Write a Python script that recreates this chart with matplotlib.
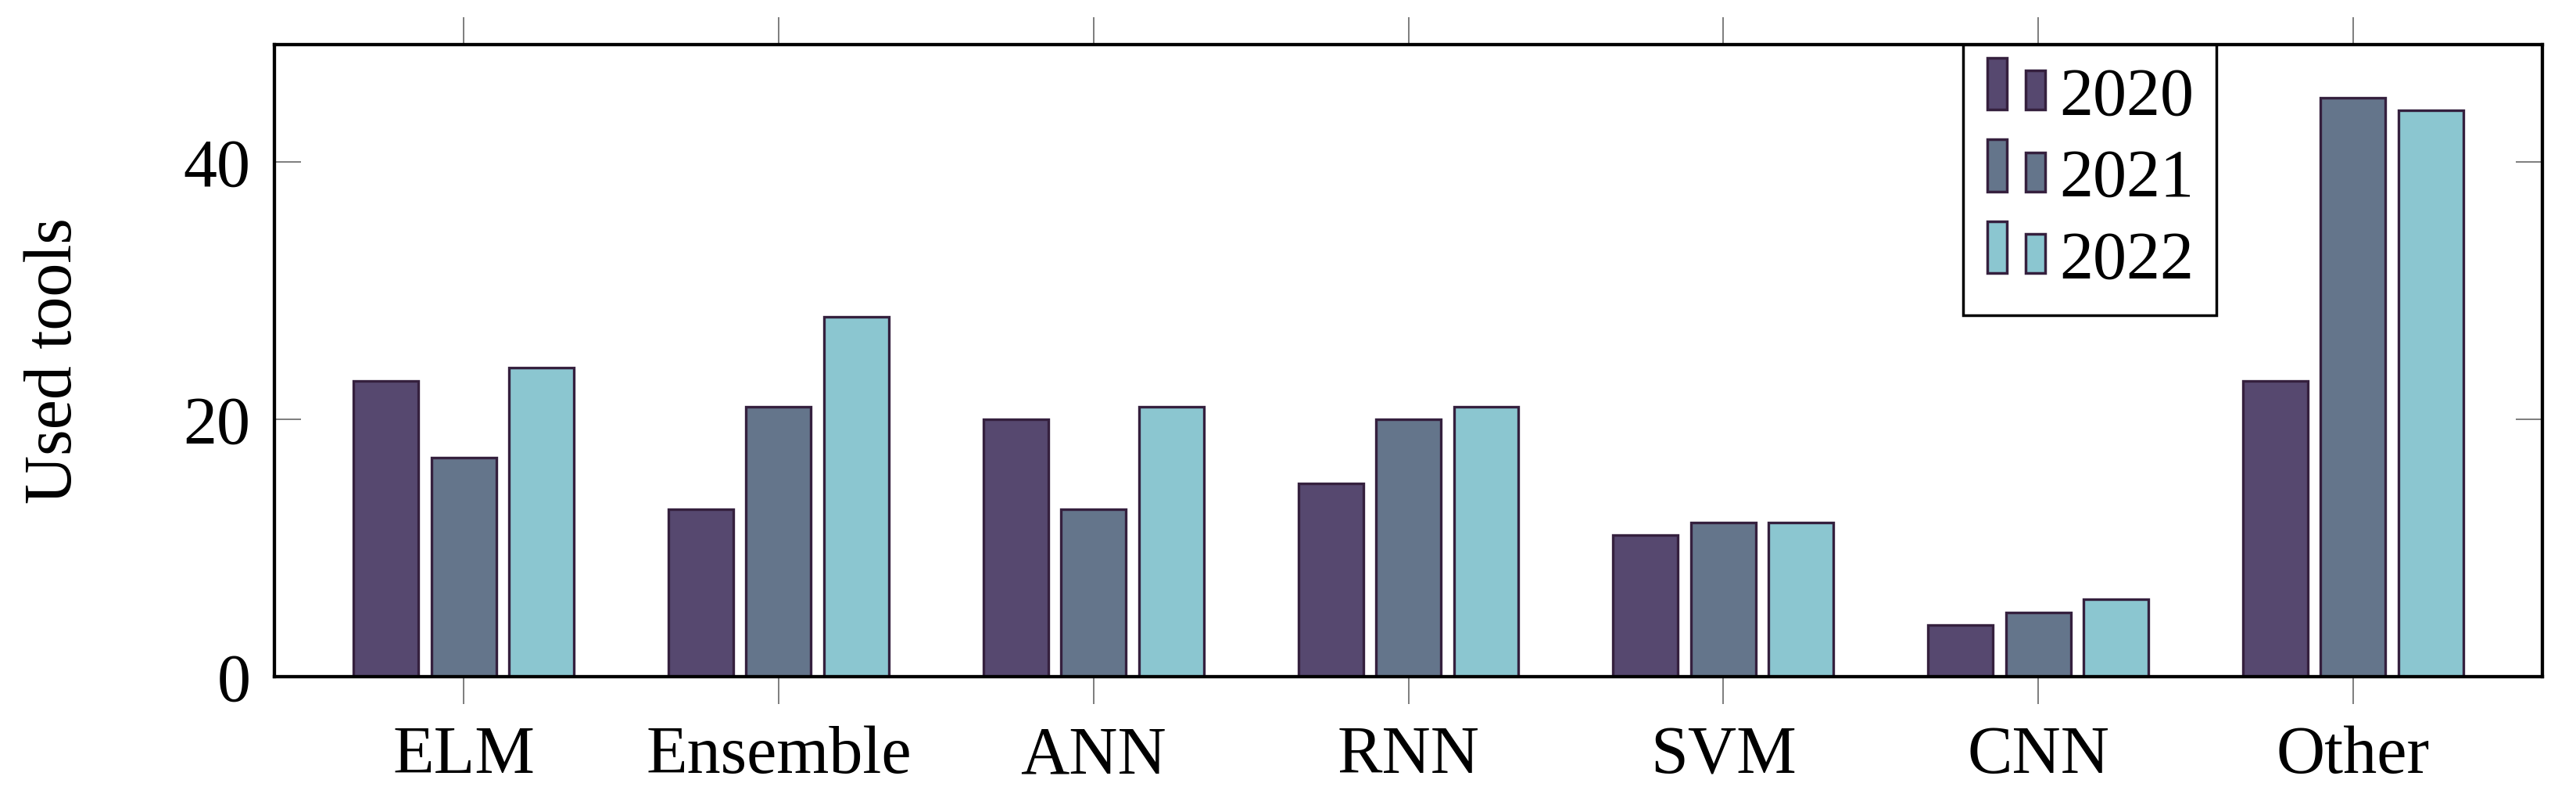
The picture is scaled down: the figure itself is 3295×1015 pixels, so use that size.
import matplotlib.pyplot as plt
import numpy as np
from matplotlib.patches import Rectangle
from matplotlib.legend_handler import HandlerBase
from matplotlib.container import BarContainer

categories = ["ELM", "Ensemble", "ANN", "RNN", "SVM", "CNN", "Other"]
years = ["2020", "2021", "2022"]
tools_2020 = [23, 13, 20, 15, 11, 4, 23]
tools_2021 = [17, 21, 13, 20, 12, 5, 45]
tools_2022 = [24, 28, 21, 21, 12, 6, 44]

fill_colors = ["#56486f", "#64758b", "#8bc6d0"]
edge_color = "#35203e"
tick_color = "#808080"

plt.rcParams["font.family"] = ["Liberation Serif", "DejaVu Serif"]
plt.rcParams["font.size"] = 62


class TwoBarHandler(HandlerBase):
    # pgfplots-like ybar legend image: a tall and a short bar
    def create_artists(self, legend, orig_handle, xdescent, ydescent,
                       width, height, fontsize, trans):
        fc = orig_handle.patches[0].get_facecolor()
        x0 = -xdescent
        y0 = -ydescent + 4.3
        big = Rectangle((x0 + 1.5, y0), 18.5, 48, facecolor=fc,
                        edgecolor=edge_color, lw=2.5, transform=trans)
        small = Rectangle((x0 + 37, y0), 18, 36, facecolor=fc,
                          edgecolor=edge_color, lw=2.5, transform=trans)
        return [big, small]


fig = plt.figure(figsize=(32.95, 10.15), dpi=100)
ax = fig.add_axes([0.10653, 0.14778, 0.88042, 0.79557])

x = np.arange(len(categories))
offsets = [-0.247, 0, 0.247]
series = [tools_2020, tools_2021, tools_2022]
bars = []
for off, vals, col, yr in zip(offsets, series, fill_colors, years):
    b = ax.bar(x + off, vals, width=0.206, color=col, edgecolor=edge_color,
               linewidth=2.4, label=yr, zorder=2)
    bars.append(b)

ax.set_xlim(-0.601, 6.601)
ax.set_ylim(0, 49.1)
ax.set_xticks(x)
ax.set_xticklabels(categories)
ax.set_yticks([0, 20, 40])

ax.tick_params(axis="x", direction="out", length=25, width=1.45,
               color=tick_color, top=True, pad=20)
ax.tick_params(axis="y", direction="in", length=24.5, width=1.45,
               color=tick_color, right=True, pad=22)
for s in ax.spines.values():
    s.set_linewidth(3.1)
    s.set_zorder(3)

ax.set_ylabel("Used tools", va="center")
ax.yaxis.set_label_coords(-0.0969, 0.5)

leg = ax.legend(handles=bars, labels=years,
                handler_map={BarContainer: TwoBarHandler()},
                loc="upper right", bbox_to_anchor=(0.8563, 1.0),
                borderaxespad=0, fancybox=False, edgecolor="black",
                framealpha=1, handlelength=0.913, handleheight=0.7,
                handletextpad=0.19, labelspacing=0.29, borderpad=0.33,
                fontsize=62)
leg.get_frame().set_linewidth(2.5)

plt.savefig("out.png", dpi=100)
